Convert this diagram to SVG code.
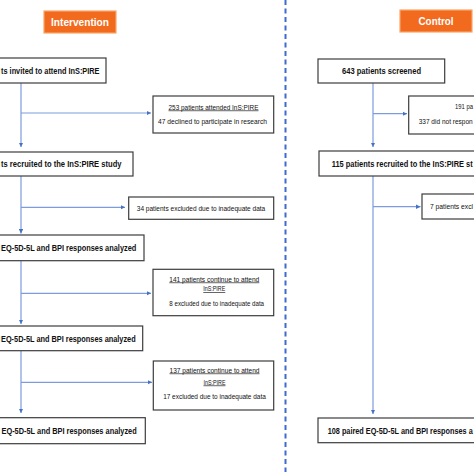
<svg xmlns="http://www.w3.org/2000/svg" width="474" height="474" viewBox="0 0 474 474">
<style>
.bg{fill:#ffffff}
.box{fill:#ffffff;stroke:#3c3c3c;stroke-width:1.2}
.tag{fill:#F26A1E;stroke:#F8A56A;stroke-width:1.2}
.tagt{font-family:"Liberation Sans",Arial,sans-serif;font-weight:bold;font-size:10px;fill:#ffffff;text-anchor:middle}
.bt{font-family:"Liberation Sans",Arial,sans-serif;font-weight:bold;font-size:8.5px;fill:#111111}
.st{font-family:"Liberation Sans",Arial,sans-serif;font-size:6.4px;fill:#111111}
.u{text-decoration:underline}
.ln{fill:none;stroke:#7D9BDD;stroke-width:1.2}
.dash{fill:none;stroke:#3F6BD0;stroke-width:2;stroke-dasharray:5 3.5}
</style>
<defs>
<marker id="ah" viewBox="0 0 6 6" refX="6" refY="3" markerWidth="4.5" markerHeight="4.5" orient="auto" markerUnits="userSpaceOnUse">
<path d="M0,0 L6,3 L0,6 Z" fill="#4472C4"/>
</marker>
</defs>
<rect class="bg" x="0" y="0" width="474" height="474"/>

<g id="divider">
<line class="dash" x1="285.5" y1="0" x2="285.5" y2="472"/>
</g>

<g id="connectors">
<line class="ln" x1="21" y1="83" x2="21" y2="147" marker-end="url(#ah)"/>
<line class="ln" x1="21" y1="113" x2="151" y2="113" marker-end="url(#ah)"/>
<line class="ln" x1="21" y1="176" x2="21" y2="233.5" marker-end="url(#ah)"/>
<line class="ln" x1="21" y1="207.3" x2="125" y2="207.3" marker-end="url(#ah)"/>
<line class="ln" x1="21" y1="261" x2="21" y2="324" marker-end="url(#ah)"/>
<line class="ln" x1="21" y1="293.3" x2="151" y2="293.3" marker-end="url(#ah)"/>
<line class="ln" x1="21" y1="351" x2="21" y2="413" marker-end="url(#ah)"/>
<line class="ln" x1="21" y1="382.3" x2="152" y2="382.3" marker-end="url(#ah)"/>
<line class="ln" x1="373" y1="83" x2="373" y2="147" marker-end="url(#ah)"/>
<line class="ln" x1="373" y1="113.7" x2="407" y2="113.7" marker-end="url(#ah)"/>
<line class="ln" x1="373" y1="176" x2="373" y2="414" marker-end="url(#ah)"/>
<line class="ln" x1="373" y1="206.7" x2="420.5" y2="206.7" marker-end="url(#ah)"/>
</g>

<g id="intervention-label">
<rect class="tag" x="44" y="11" width="72" height="22"/>
<text class="tagt" x="80" y="25.5" textLength="58" lengthAdjust="spacingAndGlyphs">Intervention</text>
</g>

<g id="control-label">
<rect class="tag" x="400" y="10" width="72" height="22"/>
<text class="tagt" x="436" y="24.5" textLength="35" lengthAdjust="spacingAndGlyphs">Control</text>
</g>

<g id="i-invited">
<rect class="box" x="-10" y="58" width="116" height="25"/>
<text class="bt" x="1" y="73.5" textLength="98.5" lengthAdjust="spacingAndGlyphs">ts invited to attend InS:PIRE</text>
</g>

<g id="i-attended">
<rect class="box" x="153" y="96" width="120.7" height="37"/>
<text class="st u" x="213.5" y="109.5" text-anchor="middle" textLength="90" lengthAdjust="spacingAndGlyphs">253 patients attended InS:PIRE</text>
<text class="st" x="212.5" y="124" text-anchor="middle" textLength="109" lengthAdjust="spacingAndGlyphs">47 declined to participate in research</text>
</g>

<g id="i-recruited">
<rect class="box" x="-10" y="152" width="143" height="24"/>
<text class="bt" x="1" y="167" textLength="120.5" lengthAdjust="spacingAndGlyphs">ts recruited to the InS:PIRE study</text>
</g>

<g id="i-excluded34">
<rect class="box" x="128.7" y="197" width="145" height="22.3"/>
<text class="st" x="201" y="210.5" text-anchor="middle" textLength="128.5" lengthAdjust="spacingAndGlyphs">34 patients excluded due to inadequate data</text>
</g>

<g id="i-analyzed1">
<rect class="box" x="-10" y="235" width="154" height="25.7"/>
<text class="bt" x="1" y="251" textLength="135.3" lengthAdjust="spacingAndGlyphs">EQ-5D-5L and BPI responses analyzed</text>
</g>

<g id="i-continue141">
<rect class="box" x="153" y="269.3" width="120.7" height="46.4"/>
<text class="st u" x="214.3" y="281.5" text-anchor="middle" textLength="90" lengthAdjust="spacingAndGlyphs">141 patients continue to attend</text>
<text class="st u" x="214.3" y="291.2" text-anchor="middle" textLength="22" lengthAdjust="spacingAndGlyphs">InS:PIRE</text>
<text class="st" x="216.7" y="305.8" text-anchor="middle" textLength="94.7" lengthAdjust="spacingAndGlyphs">8 excluded due to inadequate data</text>
</g>

<g id="i-analyzed2">
<rect class="box" x="-10" y="326" width="152.7" height="24.7"/>
<text class="bt" x="1" y="341.5" textLength="134.7" lengthAdjust="spacingAndGlyphs">EQ-5D-5L and BPI responses analyzed</text>
</g>

<g id="i-continue137">
<rect class="box" x="153.3" y="361" width="120.4" height="49"/>
<text class="st u" x="214.5" y="372.5" text-anchor="middle" textLength="90" lengthAdjust="spacingAndGlyphs">137 patients continue to attend</text>
<text class="st u" x="214.5" y="384.5" text-anchor="middle" textLength="22" lengthAdjust="spacingAndGlyphs">InS:PIRE</text>
<text class="st" x="214.5" y="398.5" text-anchor="middle" textLength="102.7" lengthAdjust="spacingAndGlyphs">17 excluded due to inadequate data</text>
</g>

<g id="i-analyzed3">
<rect class="box" x="-10" y="417.7" width="155.3" height="26"/>
<text class="bt" x="1.5" y="434" textLength="135.2" lengthAdjust="spacingAndGlyphs">EQ-5D-5L and BPI responses analyzed</text>
</g>

<g id="c-screened">
<rect class="box" x="318" y="59" width="126.7" height="24"/>
<text class="bt" x="381.5" y="74" text-anchor="middle" textLength="79" lengthAdjust="spacingAndGlyphs">643 patients screened</text>
</g>

<g id="c-excluded-screen">
<rect class="box" x="408.7" y="96" width="80" height="38"/>
<text class="st" x="455" y="109" textLength="18" lengthAdjust="spacingAndGlyphs">191 pa</text>
<text class="st" x="418.7" y="124" textLength="54" lengthAdjust="spacingAndGlyphs">337 did not respon</text>
</g>

<g id="c-recruited">
<rect class="box" x="319" y="151" width="170" height="25"/>
<text class="bt" x="331.7" y="167" textLength="141" lengthAdjust="spacingAndGlyphs">115 patients recruited to the InS:PIRE st</text>
</g>

<g id="c-excluded7">
<rect class="box" x="422" y="194" width="70" height="25"/>
<text class="st" x="430" y="209" textLength="43" lengthAdjust="spacingAndGlyphs">7 patients excl</text>
</g>

<g id="c-analyzed">
<rect class="box" x="318" y="418" width="170" height="24.7"/>
<text class="bt" x="327.7" y="434" textLength="145" lengthAdjust="spacingAndGlyphs">108 paired EQ-5D-5L and BPI responses a</text>
</g>
</svg>
